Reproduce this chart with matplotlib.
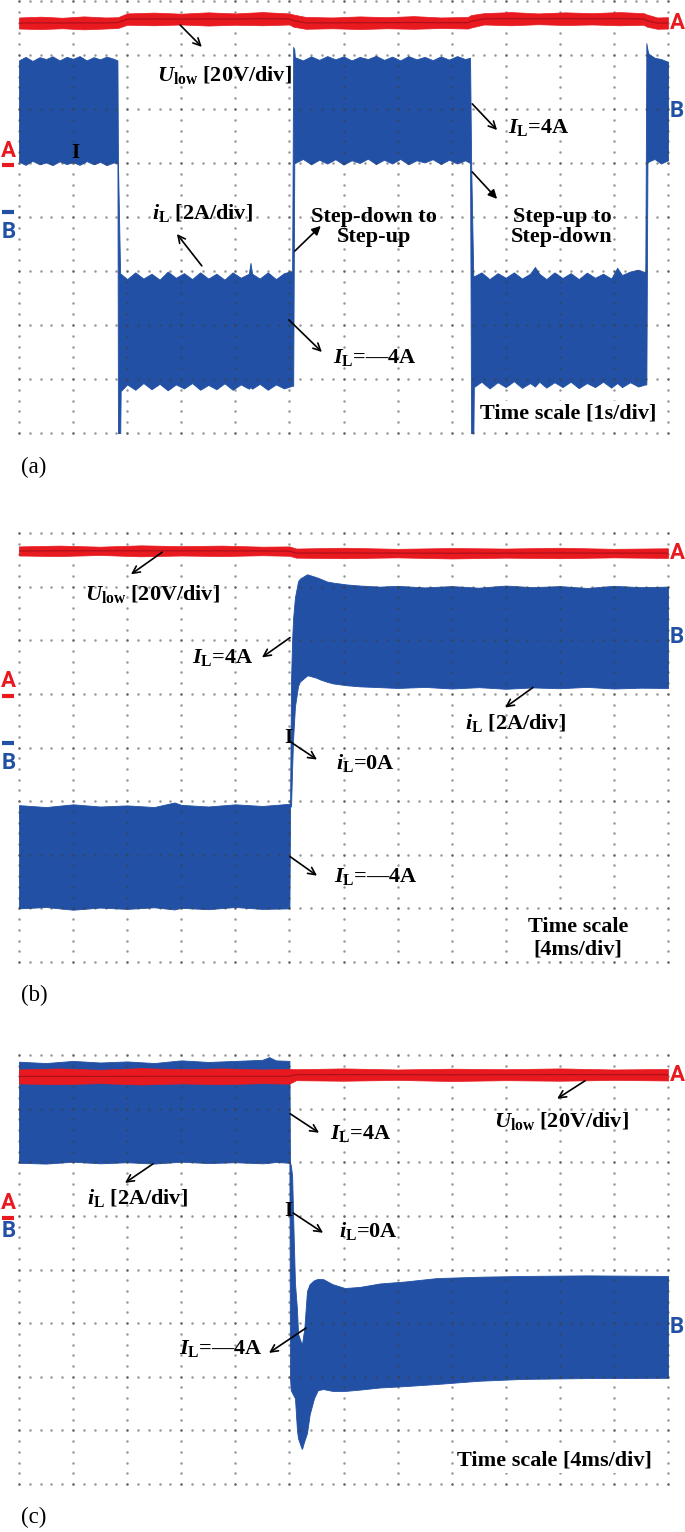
import numpy as np
import matplotlib.pyplot as plt
from matplotlib.transforms import ScaledTranslation

plt.rcParams['font.family'] = ['Liberation Serif', 'DejaVu Serif']
plt.rcParams['mathtext.fontset'] = 'custom'
plt.rcParams['mathtext.rm'] = 'Liberation Serif:bold'
plt.rcParams['mathtext.it'] = 'Liberation Serif:italic:bold'
plt.rcParams['mathtext.bf'] = 'Liberation Serif:bold'

BLUE = '#2150a4'
RED = '#e8191f'
DARK_RED = '#a8101a'

# ---------------- (a) time in s (1 s/div), iL in A, Ulow in V ----------------
t_a = [0.00, 0.12, 0.25, 0.38, 0.50, 0.62, 0.75, 0.88, 1.00, 1.12, 1.25, 1.38, 1.50, 1.62, 1.75, 1.82,
       1.83, 1.87,
       1.88, 2.00, 2.15, 2.30, 2.45, 2.60, 2.75, 2.90, 3.05, 3.20, 3.35, 3.50, 3.65, 3.80, 3.95, 4.10,
       4.25, 4.28, 4.31, 4.45, 4.60, 4.75, 4.90, 5.05,
       5.07, 5.09,
       5.10, 5.25, 5.40, 5.55, 5.70, 5.85, 6.00, 6.15, 6.30, 6.45, 6.60, 6.75, 6.90, 7.05, 7.20, 7.35,
       7.50, 7.65, 7.80, 7.95, 8.10, 8.25, 8.34,
       8.36, 8.40,
       8.41, 8.55, 8.70, 8.85, 9.00, 9.15, 9.30, 9.45, 9.54, 9.62, 9.75, 9.90, 10.05, 10.20, 10.35,
       10.50, 10.65, 10.80, 10.95, 11.06, 11.15, 11.30, 11.45, 11.58,
       11.60, 11.62,
       11.64, 11.75, 11.87, 12.0]
il_hi_a = [5.80, 5.93, 5.78, 5.92, 5.85, 5.95, 5.80, 5.93, 5.86, 5.96, 5.80, 5.92, 5.84, 5.94, 5.86, 5.80,
           2.00, -2.10,
           -2.10, -2.30, -2.05, -2.28, -2.10, -2.32, -2.02, -2.25, -2.08, -2.30, -2.05, -2.28, -2.10, -2.32,
           -2.05, -2.25, -2.10, -1.70, -2.10, -2.28, -2.05, -2.30, -2.08, -2.00,
           6.30, 6.20,
           5.92, 5.80, 5.95, 5.82, 5.96, 5.84, 5.95, 5.80, 5.93, 5.85, 5.97, 5.82, 5.94, 5.80, 5.96, 5.84,
           5.93, 5.81, 5.95, 5.83, 5.96, 5.85, 5.90,
           2.00, -2.20,
           -2.20, -2.05, -2.30, -2.08, -2.25, -2.05, -2.28, -2.10, -1.85, -2.10, -2.30, -2.05, -2.26, -2.08,
           -2.30, -2.06, -2.25, -2.10, -2.28, -1.88, -2.15, -2.02, -1.95, -2.05,
           6.44, 6.20,
           6.05, 5.90, 5.85, 5.75]
il_lo_a = [2.05, 1.93, 2.08, 1.95, 2.02, 1.92, 2.06, 1.96, 2.03, 1.93, 2.07, 1.95, 2.04, 1.92, 2.02, 2.00,
           -8.50, -8.50,
           -6.45, -6.20, -6.40, -6.15, -6.38, -6.18, -6.42, -6.20, -6.35, -6.15, -6.40, -6.22, -6.38, -6.16,
           -6.40, -6.20, -6.36, -6.30, -6.36, -6.18, -6.40, -6.20, -6.35, -6.25,
           -6.25, 2.00,
           2.00, 2.15, 1.95, 2.12, 1.98, 2.14, 1.94, 2.10, 2.00, 2.16, 1.96, 2.12, 1.98, 2.15, 1.95, 2.10,
           2.02, 2.14, 1.96, 2.12, 1.98, 2.10, 2.00,
           -8.50, -8.50,
           -6.30, -6.10, -6.35, -6.12, -6.30, -6.08, -6.33, -6.15, -6.28, -6.10, -6.32, -6.12, -6.30, -6.10,
           -6.34, -6.15, -6.30, -6.10, -6.32, -6.15, -6.30, -6.12, -6.28, -6.20,
           -6.20, 2.00,
           2.05, 2.15, 1.98, 2.10]
tu_a = [0, 0.4, 0.8, 1.2, 1.6, 1.83, 2.0, 2.5, 3.0, 3.5, 4.0, 4.5, 5.0, 5.07, 5.3, 5.8, 6.3, 6.8,
        7.3, 7.8, 8.3, 8.36, 8.6, 9.1, 9.6, 10.1, 10.6, 11.1, 11.55, 11.61, 11.8, 12.0]
u_hi_a = [53.9, 54.2, 53.8, 54.3, 53.9, 54.0, 55.4, 55.7, 55.3, 55.8, 55.4, 55.9, 55.4, 55.0, 54.1, 53.9,
          54.3, 54.0, 54.4, 53.9, 54.1, 54.8, 55.5, 55.9, 55.4, 55.8, 55.5, 55.9, 55.5, 55.0, 53.9, 54.0]
u_lo_a = [49.8, 49.6, 49.9, 49.5, 49.8, 50.0, 51.2, 51.0, 51.3, 50.9, 51.2, 51.0, 51.3, 50.5, 49.7, 49.9,
          49.6, 49.9, 49.7, 50.0, 49.8, 50.2, 51.3, 51.0, 51.4, 51.1, 51.3, 51.0, 51.2, 50.5, 49.7, 49.8]

# ---------------- (b) time in ms (4 ms/div) ----------------
t_b = [0, 2, 4, 6, 8, 10, 11.5, 12, 14, 16, 18, 20.0,
       20.05, 20.12, 20.2, 20.27, 20.41, 20.64, 20.78, 21.3, 21.38, 22.0, 22.26, 22.78, 23.22, 24.26, 25.22, 26.7,
       28, 30, 32, 34, 36, 38, 40, 42, 44, 46, 48]
il_hi_b = [-2.15, -2.22, -2.12, -2.20, -2.16, -2.22, -2.05, -2.14, -2.20, -2.12, -2.18, -2.10,
           -2.0, 2.5, 4.0, 4.8, 5.6, 6.2, 6.3, 6.46, 6.45, 6.35, 6.3, 6.19, 6.15, 6.08, 6.04, 6.0,
           6.03, 5.97, 6.02, 5.96, 6.04, 5.98, 6.02, 5.95, 6.03, 5.98, 6.0]
il_lo_b = [-6.00, -5.95, -6.05, -5.97, -6.02, -5.96, -6.04, -5.98, -6.03, -5.95, -6.02, -6.00,
           -2.2, -2.2, -0.8, 0.3, 1.53, 2.3, 2.46, 2.68, 2.69, 2.6, 2.54, 2.45, 2.39, 2.32, 2.28, 2.25,
           2.22, 2.26, 2.20, 2.25, 2.19, 2.24, 2.21, 2.26, 2.20, 2.23, 2.22]
tu_b = [0, 3, 6, 9, 12, 15, 18, 20.0, 20.5, 24, 28, 32, 36, 40, 44, 48]
u_hi_b = [55.0, 55.3, 54.9, 55.4, 55.1, 55.3, 54.9, 55.0, 54.2, 54.5, 54.1, 54.4, 54.2, 54.5, 54.1, 54.3]
u_lo_b = [51.6, 51.4, 51.8, 51.3, 51.6, 51.4, 51.7, 51.5, 50.8, 50.6, 50.9, 50.5, 50.8, 50.6, 50.9, 50.7]

# ---------------- (c) time in ms (4 ms/div) ----------------
t_c = [0, 2, 4, 6, 8, 10, 12, 14, 16, 18, 18.5, 19, 20.0,
       20.04, 20.1, 20.2, 20.3, 20.41, 20.56, 20.64, 20.88, 20.93, 21.1, 21.3, 21.5, 21.82, 22.1, 22.5,
       23.2, 24.1, 25.2, 26.7, 28.5, 30.9, 34, 37.3, 42, 48]
il_hi_c = [5.75, 5.70, 5.78, 5.72, 5.76, 5.70, 5.80, 5.74, 5.78, 5.82, 5.92, 5.80, 5.78,
           1.98, 1.9, 1.5, -0.5, -2.5, -3.5, -4.4, -4.75, -4.78, -4.2, -2.8, -2.54, -2.4, -2.35, -2.36,
           -2.55, -2.69, -2.65, -2.52, -2.45, -2.32, -2.27, -2.24, -2.22, -2.24]
il_lo_c = [1.98, 1.95, 2.02, 1.96, 2.00, 1.95, 2.02, 1.97, 2.00, 1.96, 1.98, 2.01, 1.98,
           -6.0, -6.5, -6.6, -6.7, -6.8, -8.0, -8.3, -8.65, -8.69, -8.4, -8.1, -7.4, -6.8, -6.5, -6.46,
           -6.53, -6.53, -6.48, -6.4, -6.35, -6.27, -6.15, -6.08, -6.05, -6.04]
tu_c = [0, 3, 6, 9, 12, 15, 18, 20.0, 20.5, 24, 28, 32, 36, 40, 44, 48]
u_hi_c = [54.6, 55.0, 54.5, 55.1, 54.7, 55.0, 54.6, 54.8, 54.7, 55.0, 54.6, 54.9, 54.7, 55.0, 54.6, 54.8]
u_lo_c = [49.4, 49.1, 49.5, 49.0, 49.4, 49.1, 49.5, 49.3, 50.6, 50.4, 50.7, 50.3, 50.6, 50.4, 50.7, 50.5]


fig = plt.figure(figsize=(6.85, 15.32), dpi=100)


def px(dy):
    # small vertical offset in pixels
    return ScaledTranslation(0, dy / 100, fig.dpi_scale_trans)


def scope(rect, tmax, ilim, t, hi, lo, tu, uhi, ulo, trig, b_dash=True):
    ax = fig.add_axes(rect)
    ax.set_xlim(0, tmax)
    ax.set_ylim(*ilim)
    ax.set_axis_off()
    ax.fill_between(t, lo, hi, color=BLUE, lw=0.6, edgecolor=BLUE, zorder=1)

    # dotted graticule, 12 x 8 divisions, 5 dots per division
    xs = np.linspace(0, tmax, 13)
    ys = np.linspace(ilim[0], ilim[1], 9)
    xf = np.linspace(0, tmax, 61)
    yf = np.linspace(ilim[0], ilim[1], 41)
    kw = dict(ls='none', marker='o', ms=1.8, mew=0, color='#404040', alpha=0.55, zorder=2, clip_on=False)
    for x in xs:
        ax.plot(np.full_like(yf, x), yf, **kw)
    for y in ys:
        ax.plot(xf, np.full_like(xf, y), **kw)

    ax_u = ax.twinx()
    ax_u.set_ylim(-100, 60)
    ax_u.set_axis_off()
    ax_u.fill_between(tu, ulo, uhi, color=RED, lw=0.5, edgecolor=RED, zorder=3)
    ax_u.plot(tu, (np.array(uhi) + np.array(ulo)) / 2, color=DARK_RED, lw=0.8, zorder=4)

    # channel markers
    yi = ax.get_yaxis_transform()
    yu = ax_u.get_yaxis_transform()
    mk = dict(family=['Roboto', 'DejaVu Sans'], fontweight='bold', fontsize=16, annotation_clip=False)
    if b_dash:
        ax_u.plot([-0.026, -0.007], [0, 0], transform=yi + px(5), color=BLUE, lw=3, clip_on=False,
                  solid_capstyle='butt')
    ax_u.annotate('B', xy=(-0.016, 0), xycoords=yi, xytext=(0, -3), textcoords='offset points',
                  ha='center', va='top', color=BLUE, **mk)
    ax_u.plot([-0.026, -0.007], [0, 0], transform=yu + px(-2), color=RED, lw=3, clip_on=False,
              solid_capstyle='butt')
    ax_u.annotate('A', xy=(-0.016, 0), xycoords=yu, xytext=(0, 1), textcoords='offset points',
                  ha='center', va='bottom', color=RED, **mk)
    ax_u.annotate('A', xy=(1.003, (uhi[-1] + ulo[-1]) / 2), xycoords=yu, ha='left', va='center',
                  color=RED, **mk)
    ax_u.annotate('B', xy=(1.002, (hi[-1] + lo[-1]) / 2), xycoords=yi, ha='left', va='center',
                  color=BLUE, **mk)
    ax_u.text(trig[0], trig[1], 'I', transform=ax.transData, ha='center', va='center',
              fontsize=15, fontweight='bold', color='black')
    return ax, ax_u


def label(ax, ax_u, x, y, s, ha='left', box=False, ls=1.0):
    kw = dict(transform=ax.transData, ha=ha, va='center', fontsize=16, fontweight='bold',
              color='black', linespacing=ls, multialignment='center', zorder=6)
    if box:
        kw['bbox'] = dict(facecolor='white', edgecolor='none', pad=1.5)
    ax_u.text(x, y, s, **kw)


def arrow(ax, ax_u, tail, head, filled=False):
    ax_u.annotate('', xy=head, xytext=tail, xycoords=ax.transData, textcoords=ax.transData,
                  arrowprops=dict(arrowstyle='-|>' if filled else '->', color='black', lw=1.2,
                                  mutation_scale=13, shrinkA=0, shrinkB=0), zorder=6)


ULOW = r'$U_{\mathrm{low}}$ [20V/div]'
ILDIV = r'$i_{\mathrm{L}}$ [2A/div]'
IL4 = r'$I_{\mathrm{L}}$=4A'
ILM4 = r'$I_{\mathrm{L}}$=—4A'
IL0 = r'$i_{\mathrm{L}}$=0A'

# (a)
ax, au = scope([19 / 685, 1 - 433 / 1532, 649 / 685, 432 / 1532], 12, (-8, 8),
               t_a, il_hi_a, il_lo_a, tu_a, u_hi_a, u_lo_a, (1.04, 2.37))
label(ax, au, 2.55, 5.26, ULOW)
arrow(ax, au, (2.98, 7.11), (3.38, 6.30))
label(ax, au, 2.46, 0.15, ILDIV)
arrow(ax, au, (3.38, -1.81), (2.92, -0.63))
label(ax, au, 6.56, -0.37, 'Step-down to\nStep-up', ha='center')
arrow(ax, au, (5.10, -1.26), (5.58, -0.33), filled=True)
label(ax, au, 9.04, 3.30, IL4)
arrow(ax, au, (8.38, 4.19), (8.84, 3.22))
label(ax, au, 10.04, -0.37, 'Step-up to\nStep-down', ha='center')
arrow(ax, au, (8.38, 1.67), (8.84, 0.67), filled=True)
label(ax, au, 5.81, -5.22, ILM4)
arrow(ax, au, (4.99, -3.81), (5.60, -5.00))
label(ax, au, 8.52, -7.26, 'Time scale [1s/div]', box=True)

# (b)
ax, au = scope([19 / 685, 1 - 962 / 1532, 649 / 685, 429 / 1532], 48, (-8, 8),
               t_b, il_hi_b, il_lo_b, tu_b, u_hi_b, u_lo_b, (19.9, 0.37))
label(ax, au, 4.88, 5.71, ULOW)
arrow(ax, au, (10.58, 7.28), (8.28, 6.46))
label(ax, au, 12.80, 3.36, IL4)
arrow(ax, au, (20.05, 4.10), (17.97, 3.36))
label(ax, au, 32.99, 0.93, ILDIV)
arrow(ax, au, (38.02, 2.24), (35.95, 1.49))
label(ax, au, 23.45, -0.56, IL0)
arrow(ax, au, (20.05, 0.22), (22.04, -0.45))
label(ax, au, 23.30, -4.81, ILM4)
arrow(ax, au, (20.05, -4.07), (22.04, -4.78))
label(ax, au, 41.35, -7.11, 'Time scale\n[4ms/div]', ha='center', box=True, ls=1.15)

# (c)
ax, au = scope([19 / 685, 1 - 1484 / 1532, 649 / 685, 429 / 1532], 48, (-10, 6),
               t_c, il_hi_c, il_lo_c, tu_c, u_hi_c, u_lo_c, (19.9, 0.19), b_dash=False)
label(ax, au, 35.14, 3.54, ULOW)
arrow(ax, au, (41.87, 5.04), (39.80, 4.37))
label(ax, au, 23.0, 3.06, IL4)
arrow(ax, au, (20.05, 3.81), (22.19, 3.10))
label(ax, au, 5.03, 0.67, ILDIV)
arrow(ax, au, (9.91, 1.94), (7.84, 1.23))
label(ax, au, 23.67, -0.56, IL0)
arrow(ax, au, (20.27, 0.11), (22.49, -0.63))
label(ax, au, 11.84, -4.93, ILM4)
arrow(ax, au, (21.23, -4.18), (18.49, -5.11))
label(ax, au, 32.4, -9.14, 'Time scale [4ms/div]', box=True)

for s, y in [('(a)', 467), ('(b)', 995), ('(c)', 1517)]:
    fig.text(21 / 685, 1 - y / 1532, s, fontsize=16.5, va='center', ha='left')

fig.savefig('out.png', dpi=100, facecolor='white')
